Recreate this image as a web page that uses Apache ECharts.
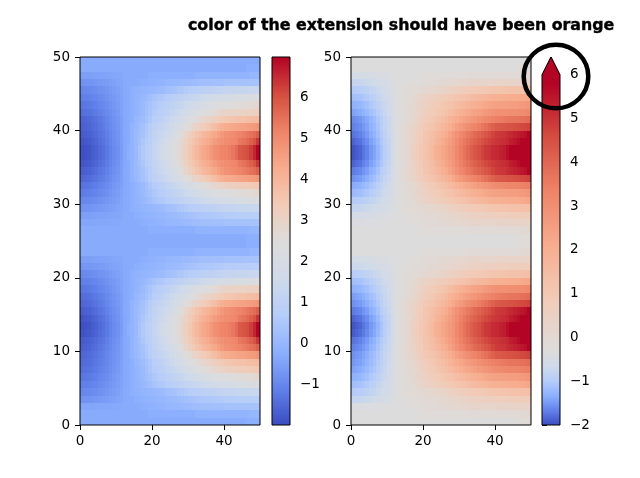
<!DOCTYPE html>
<html>
<head>
<meta charset="utf-8">
<script src="https://cdn.jsdelivr.net/npm/echarts@6/dist/echarts.min.js"></script>
<style>
html, body { margin: 0; padding: 0; background: #fff; }
#chart { width: 640px; height: 478px; }
</style>
</head>
<body>
<div id="chart"></div>
<script>
var titleText = 'color of the extension should have been orange';
var xTicks = [0, 20, 40];
var yTicks = [0, 10, 20, 30, 40, 50];
var leftBarTicks = [-1, 0, 1, 2, 3, 4, 5, 6];
var rightBarTicks = [-2, -1, 0, 1, 2, 3, 4, 5, 6];

// coolwarm, one stop per tenth
var coolwarmStops = ['#3b4cc0', '#6282ea', '#8db0fe', '#b6cdfa', '#cfdaea', '#dddcdc', '#f2cbb7', '#f7ac8e', '#ee8468', '#d44e41', '#b40426'];

// values. rows share shapes, so each row is a west part (columns 0-12) plus an east part (columns 13-49)
var w30 = [-.3,-.3,-.3,-.3,-.3,-.3,-.3,-.3,-.3,-.3,-.3,-.3,-.3];
var w40 = [-.4,-.4,-.39,-.39,-.38,-.37,-.37,-.36,-.35,-.34,-.33,-.32,-.3];
var w55 = [-.55,-.54,-.54,-.52,-.5,-.48,-.47,-.45,-.42,-.4,-.38,-.35,-.3];
var w70 = [-.7,-.69,-.68,-.65,-.63,-.59,-.57,-.53,-.49,-.46,-.42,-.37,-.31];
var w78 = [-.78,-.77,-.75,-.72,-.69,-.65,-.62,-.58,-.53,-.49,-.44,-.39,-.31];
var w95 = [-.95,-.93,-.91,-.87,-.83,-.77,-.74,-.68,-.61,-.55,-.5,-.42,-.32];
var w100 = [-1,-.98,-.96,-.92,-.87,-.81,-.77,-.71,-.64,-.57,-.51,-.43,-.32];
var w115 = [-1.15,-1.12,-1.1,-1.05,-1,-.92,-.87,-.79,-.71,-.63,-.56,-.45,-.33];
var w120 = [-1.2,-1.17,-1.15,-1.09,-1.04,-.96,-.9,-.82,-.73,-.65,-.57,-.46,-.33];
var w130 = [-1.3,-1.27,-1.24,-1.18,-1.12,-1.03,-.97,-.88,-.78,-.69,-.6,-.48,-.33];
var w135 = [-1.35,-1.32,-1.29,-1.22,-1.16,-1.07,-1,-.91,-.8,-.71,-.62,-.49,-.33];
var w142 = [-1.42,-1.39,-1.35,-1.29,-1.22,-1.12,-1.05,-.95,-.84,-.74,-.64,-.5,-.33];
var w145 = [-1.45,-1.42,-1.38,-1.31,-1.24,-1.14,-1.07,-.97,-.85,-.75,-.65,-.51,-.33];
var w150 = [-1.5,-1.46,-1.43,-1.36,-1.28,-1.18,-1.1,-1,-.88,-.77,-.66,-.52,-.34];
var w155 = [-1.55,-1.51,-1.48,-1.4,-1.33,-1.21,-1.14,-1.03,-.9,-.79,-.68,-.53,-.34];
var w160 = [-1.6,-1.56,-1.52,-1.44,-1.37,-1.25,-1.17,-1.05,-.92,-.81,-.69,-.53,-.34];
var w166 = [-1.66,-1.62,-1.58,-1.5,-1.42,-1.29,-1.21,-1.09,-.95,-.83,-.71,-.54,-.34];
var w170 = [-1.7,-1.66,-1.62,-1.53,-1.45,-1.32,-1.24,-1.11,-.97,-.85,-.72,-.55,-.34];
var w175 = [-1.75,-1.71,-1.66,-1.58,-1.49,-1.36,-1.27,-1.14,-1,-.87,-.74,-.56,-.34];
var w185 = [-1.85,-1.8,-1.76,-1.66,-1.57,-1.43,-1.34,-1.2,-1.04,-.9,-.77,-.58,-.35];
var w190 = [-1.9,-1.85,-1.8,-1.71,-1.61,-1.47,-1.37,-1.23,-1.07,-.92,-.78,-.59,-.35];
var w195 = [-1.95,-1.9,-1.85,-1.75,-1.65,-1.5,-1.41,-1.26,-1.09,-.94,-.8,-.6,-.35];

var e00 = [-.3,-.3,-.3,-.3,-.3,-.3,-.3,-.3,-.3,-.3,-.3,-.3,-.3,-.3,-.3,-.3,-.3,-.3,-.3,-.3,-.3,-.3,-.3,-.3,-.3,-.3,-.3,-.3,-.3,-.3,-.3,-.3,-.3,-.3,-.3,-.3,-.3];
var e01 = [-.3,-.3,-.3,-.3,-.3,-.3,-.3,-.3,-.3,-.3,-.3,-.3,-.3,-.3,-.3,-.3,-.3,-.3,-.3,-.3,-.3,-.3,-.3,-.3,-.3,-.3,-.3,-.3,-.3,-.3,-.3,-.3,-.3,-.2,-.2,-.2,-.2];
var e04 = [-.3,-.3,-.3,-.3,-.3,-.3,-.2,-.2,-.2,-.2,-.2,-.2,-.2,-.2,-.2,-.2,-.2,-.2,-.2,-.1,-.1,-.1,-.1,-.1,-.1,-.1,-.1,-.1,-.1,-.1,-.1,-.1,-.1,-.1,0,0,0];
var e10 = [-.3,-.3,-.3,-.25,-.2,-.2,-.15,-.15,-.1,-.1,-.05,0,0,.05,.05,.1,.1,.15,.2,.2,.25,.25,.25,.3,.3,.3,.3,.35,.35,.35,.35,.35,.35,.4,.4,.4,.4];
var e15 = [-.3,-.3,-.2,-.2,-.15,-.1,-.1,-.05,0,0,.05,.1,.1,.15,.2,.25,.3,.35,.4,.45,.5,.5,.55,.55,.6,.6,.65,.7,.7,.7,.7,.75,.75,.75,.75,.8,.8];
var e23 = [-.3,-.2,-.15,-.1,-.05,-.05,0,.05,.1,.15,.2,.3,.35,.4,.5,.55,.65,.75,.8,.85,.9,.95,1,1,1.05,1.1,1.15,1.2,1.2,1.25,1.25,1.3,1.3,1.3,1.35,1.35,1.4];
var e35 = [-.3,-.2,-.1,-.05,.05,.15,.25,.4,.5,.55,.65,.75,.8,.9,1,1.05,1.15,1.25,1.3,1.4,1.5,1.55,1.65,1.7,1.8,1.85,1.95,2,2,2.05,2.05,2.1,2.1,2.15,2.2,2.25,2.3];
var e42 = [-.3,-.2,-.1,0,.1,.25,.4,.55,.65,.75,.85,.95,1.05,1.15,1.25,1.35,1.45,1.6,1.7,1.8,1.9,2,2.1,2.2,2.3,2.35,2.4,2.5,2.5,2.55,2.55,2.6,2.6,2.65,2.7,2.75,2.8];
var e48 = [-.3,-.2,-.1,0,.15,.3,.45,.65,.75,.85,.95,1.05,1.2,1.3,1.45,1.6,1.8,2,2.1,2.2,2.3,2.4,2.5,2.6,2.7,2.8,2.9,3,3,3,3,3.05,3.05,3.1,3.1,3.15,3.2];
var e52 = [-.3,-.2,-.1,0,.15,.3,.5,.7,.8,.9,1,1.15,1.3,1.4,1.55,1.7,1.85,2.05,2.2,2.3,2.4,2.55,2.65,2.75,2.85,2.95,3.05,3.15,3.2,3.2,3.25,3.3,3.3,3.35,3.4,3.45,3.5];
var e58 = [-.3,-.2,0,.1,.2,.35,.55,.8,.9,1,1.15,1.3,1.45,1.6,1.8,1.95,2.15,2.3,2.45,2.6,2.75,2.85,3,3.1,3.2,3.3,3.4,3.5,3.55,3.6,3.65,3.7,3.7,3.75,3.8,3.85,3.9];
var e70 = [-.3,-.1,.05,.2,.35,.5,.75,1,1.1,1.2,1.35,1.5,1.7,1.85,2.05,2.25,2.5,2.7,2.9,3.05,3.2,3.35,3.5,3.65,3.8,4,4.15,4.3,4.35,4.4,4.45,4.5,4.55,4.6,4.65,4.7,4.8];
var e84 = [-.3,-.1,.1,.25,.4,.6,.85,1.1,1.25,1.4,1.55,1.75,1.95,2.15,2.4,2.7,2.95,3.2,3.4,3.6,3.75,3.95,4.1,4.25,4.4,4.55,4.75,4.9,4.95,5,5.1,5.2,5.3,5.4,5.5,5.6,5.8];
var e92 = [-.3,-.1,.1,.3,.5,.7,.9,1.15,1.3,1.45,1.7,1.9,2.15,2.35,2.6,2.85,3.1,3.4,3.6,3.8,4,4.15,4.35,4.5,4.65,4.8,4.9,5,5.05,5.1,5.2,5.4,5.5,5.65,5.8,6,6.4];
var e100 = [-.2,-.1,.1,.4,.6,.8,1,1.2,1.4,1.6,1.9,2.1,2.3,2.5,2.7,2.9,3.2,3.5,3.75,3.95,4.2,4.4,4.55,4.75,4.95,5,5.15,5.2,5.3,5.4,5.6,5.9,6,6.1,6.3,6.6,7];

// from y = 0 up
var westByRow = [w30,w30,w40,w78,w100,w115,w130,w142,w150,w155,w166,w175,w190,w195,w185,w170,w155,w145,w130,w115,w95,w70,w55,w30,w30,
   w30,w30,w40,w55,w78,w100,w120,w135,w155,w170,w185,w195,w195,w185,w175,w166,w160,w142,w130,w115,w100,w78,w55,w30,w30];
var eastByRow = [e01,e04,e10,e15,e23,e35,e42,e52,e58,e70,e84,e92,e100,e100,e92,e84,e70,e58,e48,e35,e23,e15,e10,e04,e01,
   e01,e04,e10,e15,e23,e35,e42,e52,e70,e84,e92,e100,e100,e92,e84,e70,e58,e48,e42,e35,e23,e10,e04,e01,e00];

var axisFont = 'DejaVu Sans';

var hexToRgb = function(hex) {
   return [parseInt(hex.substr(1, 2), 16), parseInt(hex.substr(3, 2), 16), parseInt(hex.substr(5, 2), 16)];
};

var coolwarm = function(f) {
   f = Math.max(0, Math.min(1, f)) * (coolwarmStops.length - 1);
   var i = Math.min(Math.floor(f), coolwarmStops.length - 2);
   var a = hexToRgb(coolwarmStops[i]);
   var b = hexToRgb(coolwarmStops[i + 1]);
   var t = f - i;
   return 'rgb(' + Math.round(a[0] + (b[0] - a[0]) * t) + ',' +
      Math.round(a[1] + (b[1] - a[1]) * t) + ',' +
      Math.round(a[2] + (b[2] - a[2]) * t) + ')';
};

// left panel is a plain linear norm, right one has two slopes around the grey
var leftColor = function(v) {
   return coolwarm((v + 2) / 9);
};
var rightColor = function(v) {
   if(v < -0.3) {
      return coolwarm((v + 2) / 1.7 * 0.5);
   }
   return coolwarm(0.5 + (v + 0.3) / 6.1 * 0.5);
};

var cellData = [];
for(var y = 0; y < westByRow.length; y++) {
   var row = westByRow[y].concat(eastByRow[y]);
   for(var x = 0; x < row.length; x++) {
      cellData.push([x, y, row[x]]);
   }
}

// one thin band per step of the colour bar
var bandData = function(from, to) {
   var out = [];
   for(var v = from; v < to - 0.0001; v += 0.04) {
      out.push([v, v + 0.04]);
   }
   return out;
};

var renderCell = function(colorOf) {
   return function(params, api) {
      var x = api.value(0), y = api.value(1);
      var p0 = api.coord([x, y]);
      var p1 = api.coord([x + 1, y + 1]);
      var left = Math.round(p0[0]), right = Math.round(p1[0]);
      var top = Math.round(p1[1]), bottom = Math.round(p0[1]);
      return {
         type: 'rect',
         shape: { x: left, y: top, width: right - left, height: bottom - top },
         style: { fill: colorOf(api.value(2)) }
      };
   };
};

var renderBand = function(colorOf) {
   return function(params, api) {
      var from = api.value(0), to = api.value(1);
      var p0 = api.coord([0, from]);
      var p1 = api.coord([1, to]);
      return {
         type: 'rect',
         shape: { x: p0[0], y: p1[1] - 0.5, width: p1[0] - p0[0], height: p0[1] - p1[1] + 1 },
         style: { fill: colorOf((from + to) / 2) }
      };
   };
};

// polygon in bar coordinates, used for the frames and the extension tip
var renderShape = function(points, fill, stroke) {
   return function(params, api) {
      var pts = [];
      for(var i = 0; i < points.length; i++) {
         pts.push(api.coord(points[i]));
      }
      return {
         type: 'polygon',
         shape: { points: pts },
         style: { fill: fill, stroke: stroke, lineWidth: 1 }
      };
   };
};

var minusLabel = function(v) {
   return String(v).replace('-', '\u2212');
};

var labelStyle = function(ticks, margin) {
   return { show: true, customValues: ticks, color: '#000', fontFamily: axisFont, fontSize: 13.5, margin: margin, formatter: minusLabel };
};
var tickStyle = function(ticks) {
   return { show: true, customValues: ticks, length: 5, lineStyle: { color: '#000', width: 1 } };
};

var grids = [
   { left: 80, top: 57, width: 180, height: 368, show: true, borderColor: '#000', borderWidth: 1, backgroundColor: 'transparent', z: 5 },
   { left: 272, top: 57, width: 18, height: 368 },
   { left: 351, top: 57, width: 180, height: 368, show: true, borderColor: '#000', borderWidth: 1, backgroundColor: 'transparent', z: 5 },
   { left: 542, top: 57, width: 18, height: 368 }
];

var heatX = function(i) {
   return { type: 'value', gridIndex: i, min: 0, max: 50, z: 6, splitLine: { show: false },
      axisLine: { show: false }, axisTick: tickStyle(xTicks), axisLabel: labelStyle(xTicks, 9) };
};
var heatY = function(i) {
   return { type: 'value', gridIndex: i, min: 0, max: 50, z: 6, splitLine: { show: false },
      axisLine: { show: false }, axisTick: tickStyle(yTicks), axisLabel: labelStyle(yTicks, 10) };
};
var barX = function(i) {
   return { type: 'value', gridIndex: i, min: 0, max: 1, show: false };
};
var barY = function(i, min, max, ticks) {
   return { type: 'value', gridIndex: i, position: 'right', min: min, max: max, splitLine: { show: false },
      axisLine: { show: false }, axisTick: tickStyle(ticks), axisLabel: labelStyle(ticks, 10) };
};

var leftFrame = [[0, -2], [1, -2], [1, 7], [0, 7]];
var rightFrame = [[0, -2], [1, -2], [1, 6], [0.5, 6.41], [0, 6]];
var rightTip = [[0, 6], [1, 6], [0.5, 6.41]];

var shapeSeries = function(axisIndex, points, fill, stroke, z) {
   return { type: 'custom', xAxisIndex: axisIndex, yAxisIndex: axisIndex, data: [[0]], renderItem: renderShape(points, fill, stroke), silent: true, z: z };
};

var option = {
   animation: false,
   backgroundColor: '#fff',
   title: {
      text: titleText,
      left: 183,
      top: 13,
      textStyle: { fontFamily: axisFont, fontWeight: 'bold', fontSize: 15.8, color: '#000', textBorderColor: '#000', textBorderWidth: 0.4 }
   },
   grid: grids,
   xAxis: [heatX(0), barX(1), heatX(2), barX(3)],
   yAxis: [heatY(0), barY(1, -2, 7, leftBarTicks), heatY(2), barY(3, -2, 6.41, rightBarTicks)],
   series: [
      { type: 'custom', xAxisIndex: 0, yAxisIndex: 0, data: cellData, renderItem: renderCell(leftColor), encode: { x: 0, y: 1 }, silent: true },
      { type: 'custom', xAxisIndex: 1, yAxisIndex: 1, data: bandData(-2, 7), renderItem: renderBand(leftColor), silent: true, clip: true },
      { type: 'custom', xAxisIndex: 2, yAxisIndex: 2, data: cellData, renderItem: renderCell(rightColor), encode: { x: 0, y: 1 }, silent: true },
      { type: 'custom', xAxisIndex: 3, yAxisIndex: 3, data: bandData(-2, 6), renderItem: renderBand(rightColor), silent: true, clip: true },
      shapeSeries(3, rightTip, '#b40426', '#b40426', 3),
      shapeSeries(1, leftFrame, 'transparent', '#000', 4),
      shapeSeries(3, rightFrame, 'transparent', '#000', 4)
   ],
   graphic: [{
      type: 'ellipse',
      z: 100,
      shape: { cx: 556, cy: 76.5, rx: 32.3, ry: 31.8 },
      style: { fill: 'transparent', stroke: '#000', lineWidth: 4.5 }
   }]
};

var chart = echarts.init(document.getElementById('chart'), null, { renderer: 'canvas' });
chart.setOption(option);
</script>
</body>
</html>
